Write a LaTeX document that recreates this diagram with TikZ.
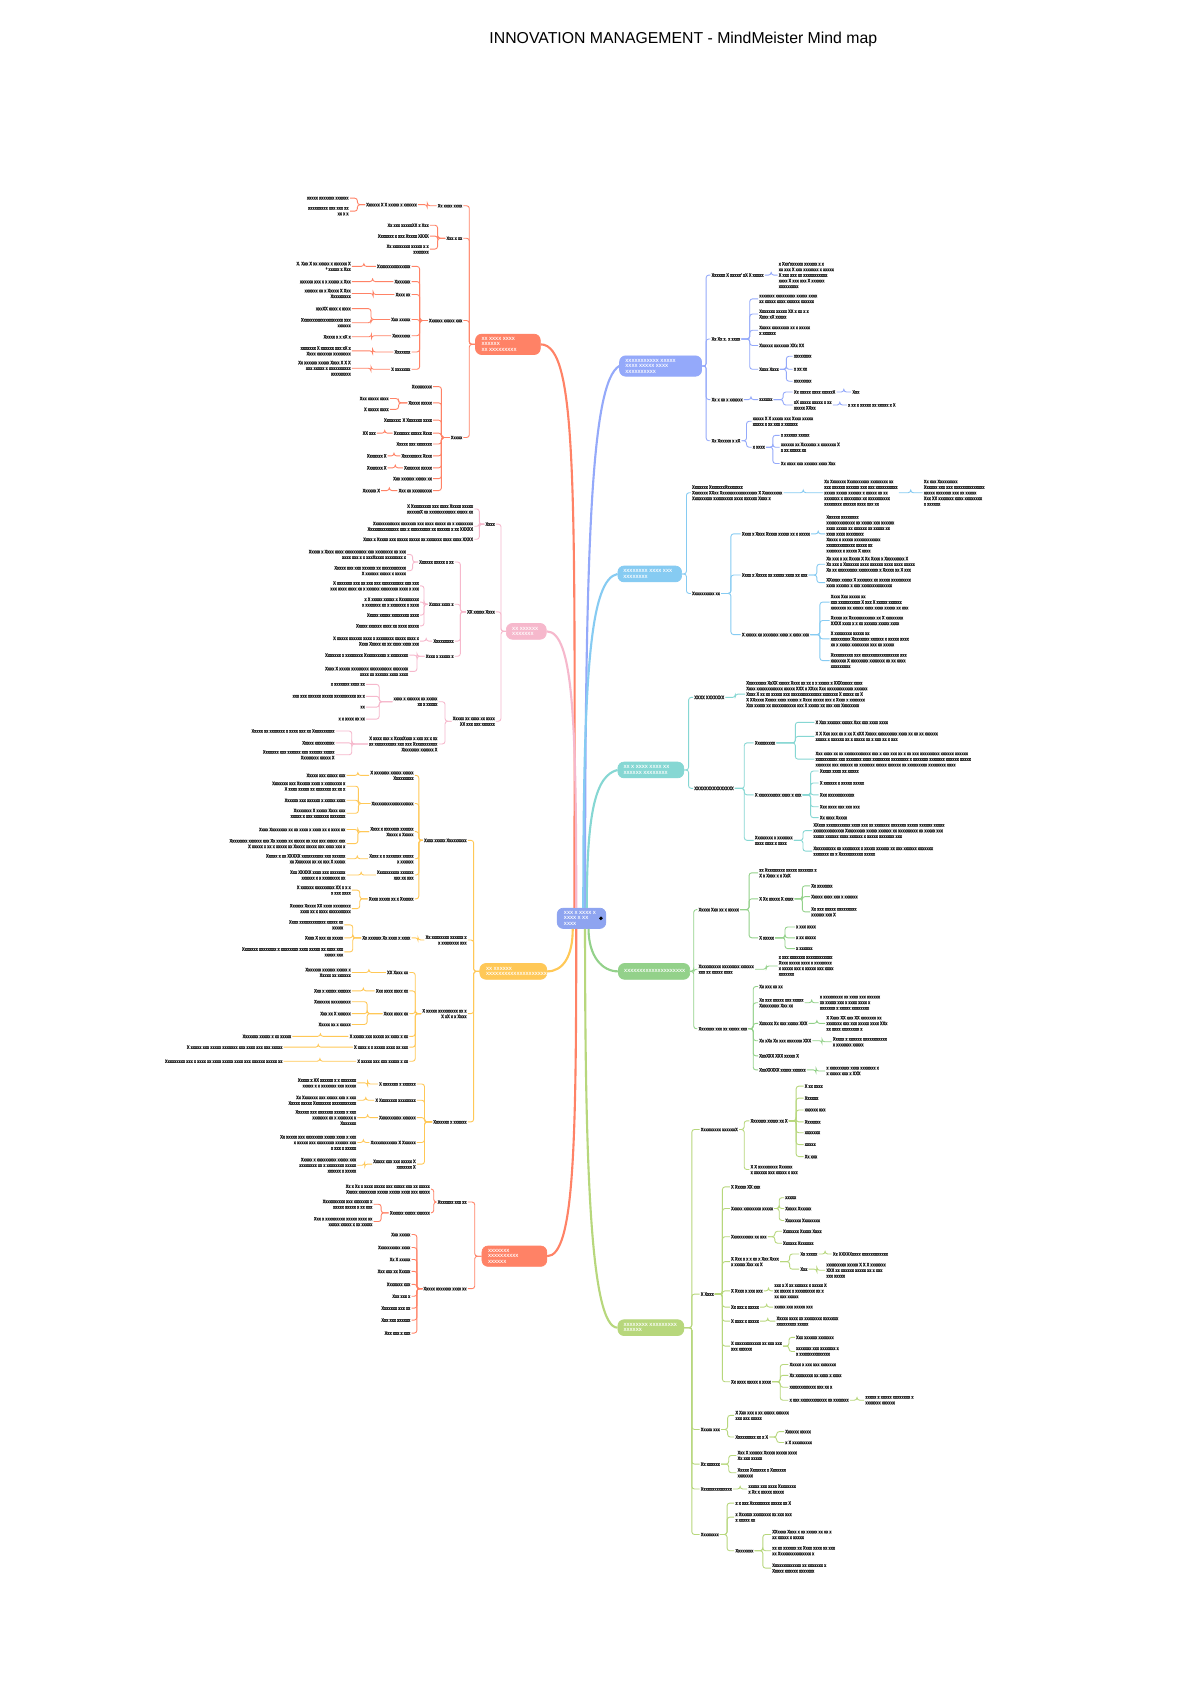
\documentclass[tikz,border=0pt]{standalone}
\usepackage{fontspec}
\setmainfont{Liberation Sans}
\newfontfamily\twigfont[FakeStretch=0.8,FakeBold=1.2]{Liberation Sans Bold}
\usetikzlibrary{calc}
\definecolor{coral}{HTML}{FF8266}
\definecolor{periw}{HTML}{94A9FA}
\definecolor{rose}{HTML}{F6B8CC}
\definecolor{sky}{HTML}{86CBF2}
\definecolor{aqua}{HTML}{86D7D3}
\definecolor{amber}{HTML}{FFC857}
\definecolor{mint}{HTML}{93D18A}
\definecolor{lime}{HTML}{B7D77C}
\definecolor{hubblue}{HTML}{8EA4F0}
\definecolor{ink}{HTML}{262626}
\colorlet{brc}{coral}
\tikzset{
  twig/.style={font=\twigfont\fontsize{2.8}{3.2}\selectfont,text=ink,inner sep=0.5pt},
  link/.style={draw=brc,line width=0.5pt,rounded corners=1.5pt},
  trunk/.style={line width=1.2pt},
  topic/.style={fill=#1,draw=#1,text=white,rounded corners=3.5pt,
    font=\fontsize{2.6}{3.1}\selectfont\bfseries,inner xsep=3pt,inner ysep=1.8pt,
    minimum height=9pt,align=left},
}
\newcommand\kidsL[3]{%
  \foreach \yy/\lab [count=\i] in {#3}{%
    \node[twig,anchor=east,align=right] (#1-\i) at (#2,\yy) {\lab};
    \draw[link] let \p1=(#1.west), \p2=(#1-\i.east) in
      (\p1) -- ({(\x1+\x2)/2},\y1) |- (\p2);
  }%
}
\newcommand\kidsR[3]{%
  \foreach \yy/\lab [count=\i] in {#3}{%
    \node[twig,anchor=west,align=left] (#1-\i) at (#2,\yy) {\lab};
    \draw[link] let \p1=(#1.east), \p2=(#1-\i.west) in
      (\p1) -- ({(\x1+\x2)/2},\y1) |- (\p2);
  }%
}

\begin{document}
\begin{tikzpicture}[x=0.02166cm,y=-0.02166cm]
\fill[white] (0,0) rectangle (1108,1568);
\useasboundingbox (0,0) rectangle (1108,1568);

\node[font=\fontsize{9}{11}\selectfont] (title) at (631,36) {INNOVATION MANAGEMENT - MindMeister Mind map};

\node[topic=hubblue,minimum width=27.7pt,text width=20pt,minimum height=9.8pt] (ctr) at (537,848) {XXX X XXXX X\\XXXX X XX XXXX};
\fill[black] ([xshift=-3pt]ctr.east) circle (1.1pt);

\node[topic=coral,minimum width=36.9pt,text width=30pt] (br1) at (469,318) {XX XXXX XXXX XXXXXX\\XX XXXXXXXXX};
\node[topic=periw,minimum width=46.7pt,text width=40pt] (br2) at (610,338) {XXXXXXXXXXX XXXXX\\XXXX XXXXX XXXX XXXXXXXXXX};
\node[topic=rose,minimum width=22.7pt,text width=16pt] (br3) at (486,583) {XX XXXXXX\\XXXXXXX};
\node[topic=sky,minimum width=36.3pt,text width=30pt] (br4) at (600,530) {XXXXXXXX XXXX XXX\\XXXXXXXX};
\node[topic=aqua,minimum width=37.5pt,text width=31pt] (br5) at (601,711) {XX X XXXX XXXX XX\\XXXXXX XXXXXXXX};
\node[topic=amber,minimum width=38.1pt,text width=31pt] (br6) at (474,897) {XX XXXXXX\\XXXXXXXXXXXXXXXXXXXXX};
\node[topic=mint,minimum width=40.6pt,text width=34pt] (br7) at (604,897) {XXXXXXXXXXXXXXXXXXXX};
\node[topic=coral,minimum width=36.9pt,text width=30pt] (br8) at (475,1160) {XXXXXXX XXXXXXXXXX\\XXXXXX};
\node[topic=lime,minimum width=37.5pt,text width=31pt] (br9) at (601,1226) {XXXXXXXX XXXXXXXXX\\XXXXXX};

\draw[trunk,coral] ([xshift=-4pt]ctr.north) .. controls +(0,-380) and +(35,0) .. (br1.east);
\draw[trunk,periw] ([xshift=2pt]ctr.north) .. controls +(0,-350) and +(-25,15) .. (br2.west);
\draw[trunk,rose] ([xshift=-3pt]ctr.north) .. controls +(0,-170) and +(25,0) .. (br3.east);
\draw[trunk,sky] ([xshift=1pt]ctr.north) .. controls +(0,-220) and +(-25,5) .. (br4.west);
\draw[trunk,aqua] ([xshift=3pt]ctr.north) .. controls +(0,-90) and +(-20,5) .. (br5.west);
\draw[trunk,amber] ([xshift=-5pt]ctr.south) .. controls +(0,25) and +(15,0) .. (br6.east);
\draw[trunk,mint] ([xshift=4pt]ctr.south) .. controls +(0,25) and +(-15,0) .. (br7.west);
\draw[trunk,coral] ([xshift=-3pt]ctr.south) .. controls +(0,200) and +(25,0) .. (br8.east);
\draw[trunk,lime] ([xshift=2pt]ctr.south) .. controls +(0,220) and +(-25,0) .. (br9.west);

% upper left branch
\colorlet{brc}{coral}
\kidsL{br1}{428}{190/{Xx xxxx xxxx}, 220/{Xxx x xx}, 296/{Xxxxxx xxxxx xxx}, 404/{Xxxxx}}
\kidsL{br1-1}{386}{189/{Xxxxxx X X xxxxx x xxxxxx}}
\kidsL{br1-1-1}{323}{183/{xxxxx xxxxxxx xxxxxx}, 195/{xxxxxxxxx xxx xxx xx\\xx x x}}
\kidsL{br1-2}{397}{208/{Xx xxx xxxxxXX x Xxx}, 218/{Xxxxxxx x xxx Xxxxx XXXX}, 230/{Xx xxxxxxxx xxxxx x x\\xxxxxxx}}
\kidsL{br1-3}{380}{246/{Xxxxxxxxxxxxxxx}, 260/{Xxxxxxx}, 272/{Xxxx xx}, 295/{Xxx xxxxx}, 310/{Xxxxxxxx}, 325/{Xxxxxxx}, 341/{X xxxxxxx}}
\kidsL{br1-3-1}{325}{246/{X. Xxx X xx xxxxx x xxxxxx X\\* xxxxx x Xxx}}
\kidsL{br1-3-2}{325}{260/{xxxxxx xxx x x xxxxx x Xxx}}
\kidsL{br1-3-3}{325}{271/{xxxxxx xx x Xxxxx X Xxx\\Xxxxxxxxx}}
\kidsL{br1-3-4}{325}{285/{xxxXX xxxx x xxxx}, 298/{Xxxxxxxxxxxxxxxxxxx xxx\\xxxxxx}}
\kidsL{br1-3-5}{325}{311/{Xxxxx x x xX x}}
\kidsL{br1-3-6}{325}{324/{xxxxxxx X xxxxxx xxx xX x\\Xxxx xxxxxxx xxxxxxxx}}
\kidsL{br1-3-7}{325}{340/{Xx xxxxxx xxxxx Xxxx X X X\\xxx xxxxx x xxxxxxxxxx\\xxxxxxxxx}}
\kidsL{br1-4}{400}{357/{Xxxxxxxxx}, 372/{Xxxxx xxxxx}, 388/{Xxxxxxx: X Xxxxxxx xxxx}, 400/{Xxxxxxx xxxxx Xxxx}, 410/{Xxxxx xxx xxxxxxx}, 421/{Xxxxxxxxx Xxxx}, 432/{Xxxxxxx xxxxx}, 442/{Xxx xxxxxx xxxxx xx}, 453/{Xxx xx xxxxxxxxx}}
\kidsL{br1-4-2}{360}{368/{Xxx xxxxx xxxx}, 378/{X xxxxx xxxx}}
\kidsL{br1-4-4}{348}{400/{XX xxx}}
\kidsL{br1-4-6}{358}{421/{Xxxxxxx X}}
\kidsL{br1-4-7}{358}{432/{Xxxxxxx X}}
\kidsL{br1-4-9}{352}{453/{Xxxxxx X}}

% upper right branch
\colorlet{brc}{periw}
\kidsR{br2}{656}{254/{Xxxxxx X xxxxx' xX X xxxxx}, 313/{Xx Xx x. x xxxx}, 369/{Xx x xx x xxxxxx}, 407/{Xx Xxxxxx x xX}}
\kidsR{br2-1}{718}{254/{x Xxx'xxxxxx xxxxxx x x\\xx xxx X xxx xxxxxxx x xxxxx\\X xxx xxx xx xxxxxxxxxxx\\xxxx X xxx xxx X xxxxxx\\xxxxxxxxx}}
\kidsR{br2-2}{700}{276/{xxxxxxx xxxxxxxxx xxxxx xxxx\\xx xxxxx xxxx xxxxxx xxxxxx}, 290/{Xxxxxxx xxxxx XX x xx x x\\Xxxx xX xxxxx}, 305/{Xxxxx xxxxxxxx xx x xxxxx\\x xxxxxx}, 319/{Xxxxxx xxxxxxx XXx XX}, 341/{Xxxx Xxxx}}
\kidsR{br2-2-5}{732}{329/{xxxxxxxx}, 341/{x xx xx}, 352/{xxxxxxxx}}
\kidsR{br2-3}{700}{369/{xxxxxx}}
\kidsR{br2-3-1}{732}{362/{Xx xxxxx xxxx xxxxxX}, 374/{xX xxxxx xxxxx x xx\\xxxxx XXxx}}
\kidsR{br2-3-1-1}{786}{362/{Xxx}}
\kidsR{br2-3-1-2}{782}{374/{x xx x xxxxx xx xxxxx x X}}
\kidsR{br2-4}{694}{389/{xxxxx X X xxxxx xxx Xxxx xxxxx\\xxxxx x xx xxx x xxxxxx}, 413/{x xxxx}}
\kidsR{br2-4-2}{720}{402/{x xxxxxx xxxxx}, 413/{xxxxxx xx Xxxxxxx x xxxxxxx X\\x xx xxxxx xx}, 428/{Xx xxxx xxx xxxxxx xxxx Xxx}}

% pink branch
\colorlet{brc}{rose}
\kidsL{br3}{458}{484/{Xxxx}, 565/{XX xxxxx Xxxx}, 666/{Xxxxx xx xxxx xx xxxx\\XX xxx xxx xxxxxx}}
\kidsL{br3-1}{438}{470/{X Xxxxxxxxx xxx xxxx Xxxxx xxxxx\\xxxxxxX xx xxxxxxxxxxxx xxxxx xx}, 486/{Xxxxxxxxxxxx xxxxxxx xxx xxxx xxxxx xx x xxxxxxxx\\Xxxxxxxxxxxxxx xxx x xxxxxxxxx xx xxxxxx x xx XXXXX}, 498/{Xxxx x Xxxxx xxx xxxxx xxxxx xx xxxxxxx xxxx xxxx XXXX}}
\kidsL{br3-2}{420}{519/{Xxxxxx xxxxx x xx}, 558/{Xxxxx xxxx x}, 592/{Xxxxxxxxx}, 606/{Xxxx x xxxxx x}}
\kidsL{br3-2-1}{376}{512/{Xxxxx x Xxxx xxxx xxxxxxxxxx xxx xxxxxxxx xx xxx\\xxxx xxx x x xxxXxxxx xxxxxxxx x}, 527/{Xxxxx xxx xxx xxxxxx xx xxxxxxxxxxx\\X xxxxxx xxxxx x xxxxx}}
\kidsL{br3-2-2}{388}{541/{X xxxxxxx xxx xx xxx xxx xxxxxxxxxx xxx xxx\\xxx xxxx xxxx xx x xxxxxx xxxxxxxx xxxx x xxx}, 556/{x X xxxxx xxxxx x Xxxxxxxxx\\x xxxxxxx xx x xxxxxxx x xxxx}, 568/{Xxxxx xxxxx xxxxxxxx xxxx}, 578/{Xxxxx xxxxxx xxxx xx xxxx xxxxx}}
\kidsL{br3-2-3}{388}{592/{X xxxxx xxxxxx xxxx x xxxxxxxx xxxxx xxxx x\\Xxxx Xxxxx xx xx xxxx xxxx xxx}}
\kidsL{br3-2-4}{378}{605/{Xxxxxxx x xxxxxxxx Xxxxxxxxxx x xxxxxxxx}, 620/{Xxxx X xxxxx xxxxxxxx xxxxxxxxxx xxxxxxx\\xxxx xx xxxxxx xxxx xxxx}}
\kidsL{br3-3}{405}{648/{xxxx x xxxxxx xx xxxxx\\xx x xxxxx}, 687/{X xxxx xxx x XxxxXxxx x xxx xx x xx\\xx xxxxxxxxxx xxx xxx Xxxxxxxxxxx\\Xxxxxxxx xxxxxx X}}
\kidsL{br3-3-1}{338}{632/{x xxxxxxx xxxx xx}, 643/{xxx xxx xxxxxx xxxxx xxxxxxxxxx xx x}, 653/{xx}, 664/{x x xxxx xx xx}}
\kidsL{br3-3-2}{310}{675/{Xxxxx xx xxxxxxx x xxxx xxx xx Xxxxxxxxxx}, 686/{Xxxxx xxxxxxxxx}, 697/{Xxxxxxx xxx xxxxxx xxx xxxxxx xxxxx\\Xxxxxxxx xxxxx X}}

% sky branch
\colorlet{brc}{sky}
\kidsR{br4}{638}{455/{Xxxxxxx XxxxxxxXxxxxxxx\\Xxxxxxx XXxx Xxxxxxxxxxxxxxxxx X Xxxxxxxxx\\Xxxxxxxxx xxxxxxxxx xxxx xxxxxx Xxxx x}, 548/{Xxxxxxxxxx xx}}
\kidsR{br4-1}{760}{455/{Xx Xxxxxxx Xxxxxxxxxx xxxxxxxx xx\\xxx xxxxxx xxxxxx xxx xxx xxxxxxxxxx\\xxxxx xxxxx xxxxxx x xxxxx xx xx\\xxxxxxx x xxxxxxxx xx xxxxxxxxxx\\xxxxxxxx xxxxxx xxxx xxx xx}}
\kidsR{br4-1-1}{852}{455/{Xx xxx Xxxxxxxxx\\Xxxxxx xxx xxx xxxxxxxxxxxxxx\\xxxxx xxxxxxx xxx xx xxxxx\\Xxx XX xxxxxxx xxxx xxxxxxxx\\x xxxxxx}}
\kidsR{br4-2}{684}{493/{Xxxx x Xxxx Xxxxx xxxxx xx x xxxxx}, 531/{Xxxx x Xxxxx xx xxxxx xxxx xx xxx}, 586/{X xxxxx xx xxxxxxx xxxx x xxxx xxx}}
\kidsR{br4-2-1}{762}{493/{Xxxxxx xxxxxxxx\\xxxxxxxxxxxxx xx xxxxx xxx xxxxxx\\xxxx xxxxx xx xxxxxx xx xxxxx xx\\xxxx xxxx xxxxxxxx\\Xxxxx x xxxxx xxxxxxxxxxxx\\xxxxxxxxxxxxx xxxxx xx\\xxxxxxx x xxxxx X xxxx}}
\kidsR{br4-2-2}{762}{521/{Xx xxx x xx Xxxxx X Xx Xxxx x Xxxxxxxxx X\\Xx xxx x Xxxxxxx xxxx xxxxxx xxxx xxxx xxxxx\\Xx xx xxxxxxxxx xxxxxxxxx x Xxxxx xx X xxx}, 538/{XXxxxx xxxxx X xxxxxxx xx xxxxx xxxxxxxxx\\xxxx xxxxxx x xxx xxxxxxxxxxxxxx}}
\kidsR{br4-2-3}{766}{556/{Xxxx Xxx xxxxx xx\\xxx xxxxxxxxxx X xxx X xxxxx xxxxxx\\xxxxxxx xx xxxxx xxxx xxxx xxxxx xx xxx}, 573/{Xxxxx xx Xxxxxxxxxxxx xx X xxxxxxxx\\XXXX xxxx x x xx xxxxxx xxxxx xxxx}, 590/{X xxxxxxxx xxxxx xx\\xxxxxxxxx Xxxxxxxx xxxxxx x xxxxx xxxx\\xx x xxxxx xxxxxxxx xxx xx xxxxx}, 610/{Xxxxxxxxxx xxx xxxxxxxxxxxxxxxxx xxx\\xxxxxxx X xxxxxxxx xxxxxxx xx xx xxxx\\xxxxxxxxx}}

% teal branch
\colorlet{brc}{aqua}
\kidsR{br5}{640}{644/{XXXX XXXXXXX}, 728/{XXXXXXXXXXXXXXX}}
\kidsR{br5-1}{688}{641/{Xxxxxxxxx XxXX xxxxx Xxxx xx xx x x xxxxx x XXXxxxxx xxxx\\Xxxx xxxxxxxxxxxx xxxxx XXX x XXxx Xxx xxxxxxxxxxxx xxxxxx\\Xxxx X xx xx xxxxx xxx xxxxxxxxxxxxxx xxxxxxx X xxxxx xx X\\X XXxxxx Xxxxx xxxx xxxxx x Xxxx xxxxx xxx x Xxxx x xxxxxxx\\Xxx xxxxx xx xxxxxxxxxxx xxx X xxxxx xx xxx xxx Xxxxxxxx}}
\kidsR{br5-2}{696}{686/{Xxxxxxxxx}, 734/{X xxxxxxxxxx xxxx x xxx}, 776/{Xxxxxxxx x xxxxxxx\\xxxx xxxx x xxxx}}
\kidsR{br5-2-1}{752}{667/{X Xxx xxxxxx xxxxx Xxx xxx xxxx xxxx}, 680/{X X Xxx xxx xx x xx X xXX Xxxxx xxxxxxxxx xxxx xx xx xx xxxxxx\\xxxxx x xxxxxx xx x xxxxx xx x xxx xx x xxx}, 701/{Xxx xxxx xx xx xxxxxxxxxxxx xxx x xxx xxx xx x xx xxx xxxxxxxxx xxxxxx xxxxxx\\xxxxxxxxxx xxx xxxxxxx xxxx xxxxxxxx xxxxxxxx x xxxxxxx xxxxxxx xxxxxx xxxxx\\xxxxxxx xxx xxxxxx xx xxxxxxx xxxxx xxxxxx xx xxxxxxxxx xxxxxxxx xxxx}}
\kidsR{br5-2-2}{756}{712/{Xxxxx xxxx xx xxxxx}, 723/{X xxxxxx x xxxxx xxxxx}, 734/{Xxx xxxxxxxxxxxx}, 745/{Xxx xxxx xxx xxx xxx}, 755/{Xx xxxx Xxxxx}}
\kidsR{br5-2-3}{750}{767/{XXxxx xxxxxxxxxxx xxxx xxx xx xxxxxxx xxxxxxx xxxxx xxxxxx xxxxx\\xxxxxxxxxxxxxx Xxxxxxxxx xxxxx xxxxxx xx xxxxxxxxx xx xxxxx xxx\\xxxxx xxxxxx xxxx xxxxxx x xxxxx xxxxxxx xxx}, 786/{Xxxxxxxxxx xx xxxxxxxx x xxxxx xxxxxx xx xxx xxxxxx xxxxxxx\\xxxxxxx xx x Xxxxxxxxxxx xxxxx}}

% orange branch
\colorlet{brc}{amber}
\kidsL{br6}{432}{776/{Xxxx xxxxx Xxxxxxxxx}, 868/{Xx xxxxxxxx xxxxxx x\\x xxxxxxxx xxx}, 936/{X xxxxx xxxxxxxxx xx x\\X xX x x Xxxx}, 1036/{Xxxxxxx x xxxxxx}}
\kidsL{br6-1}{383}{716/{X xxxxxxx xxxxx xxxxx\\Xxxxxxxxx}, 742/{Xxxxxxxxxxxxxxxxxxx}, 768/{Xxxx x xxxxxxx xxxxxx\\Xxxxx x Xxxxx}, 793/{Xxxx x x xxxxxxx xxxxx\\x xxxxxx}, 808/{Xxxxxxxxxx xxxxxx\\xxx xx xxx}, 830/{Xxxx xxxxx xx x Xxxxxx}}
\kidsL{br6-1-1}{320}{716/{Xxxxx xxx xxxxx xxx}}
\kidsL{br6-1-2}{320}{726/{Xxxxxxx xxx Xxxxxx xxxx x xxxxxxxx x\\X xxxx xxxxx xx xxxxxxx xx xx x}, 739/{Xxxxxx xxx xxxxxx x xxxxx xxxx}, 751/{Xxxxxxxx X xxxxx Xxxx xxx\\xxxxx x xxx xxxxxxx xxxxxxx}}
\kidsL{br6-1-3}{320}{766/{Xxxx Xxxxxxxx xx xx xxxx x xxxx xx x xxxx xx}, 779/{Xxxxxxxx xxxxxx xxx Xx xxxxx xx xxxxx xx xxx xxx xxxxx xxx\\X xxxxx x xx x xxxxx xx Xxxxx xxxxx xxx xxxx xxx x}}
\kidsL{br6-1-4}{320}{793/{Xxxxx x xx XXXXX xxxxxxxxxx xxx xxxxxx\\xx Xxxxxxx xx xx xxx X xxxxx}}
\kidsL{br6-1-5}{320}{808/{Xxx XXXXX xxxx xxx xxxxxxx\\xxxxxx x x xxxxxxxx xx}}
\kidsL{br6-1-6}{325}{822/{X xxxxxx xxxxxxxxx XX x x x\\x xxx xxxx}, 839/{Xxxxxx Xxxxx XX xxxx xxxxxxxx\\xxxx xx x xxxx xxxxxxxxxx}}
\kidsL{br6-2}{380}{866/{Xx xxxxxx Xx xxxx x xxxx}}
\kidsL{br6-2-1}{318}{854/{Xxxx xxxxxxxxxxxx xxxxx xx\\xxxxx}, 866/{Xxxx X xxx xx xxxxx}, 879/{Xxxxxxx xxxxxxxx x xxxxxxxx xxxx xxxxx xx xxxx xxx\\xxxxx xxx}}
\kidsL{br6-3}{378}{898/{XX Xxxx xx}, 915/{Xxx xxxx xxxx xx}, 936/{Xxxx xxxx xx}, 957/{X xxxxx xxx xxxxx xx xxxx x xx}, 967/{X xxxx x x xxxxx xxxx xx xxx}, 980/{X xxxxx xxx xxx xxxxx x xx}}
\kidsL{br6-3-1}{325}{898/{Xxxxxxx xxxxxx xxxxx x\\Xxxxx xx xxxxxx}}
\kidsL{br6-3-2}{325}{915/{Xxx x xxxxx xxxxxx}}
\kidsL{br6-3-3}{325}{925/{Xxxxxxx xxxxxxxxx}, 936/{Xxx xx X xxxxxx}, 946/{Xxxxx xx x xxxxx}}
\kidsL{br6-3-4}{270}{957/{Xxxxxxx xxxxx x xx xxxxx}}
\kidsL{br6-3-5}{262}{967/{X xxxxx xxx xxxxx xxxxxxx xxx xxxx xxx xxx xxxxx}}
\kidsL{br6-3-6}{262}{980/{Xxxxxxxxx xxx x xxxx xx xxxx xxxxx xxxx xxx xxxxxx xxxxx xx}}
\kidsL{br6-4}{385}{1001/{X xxxxxxx x xxxxxx}, 1016/{X Xxxxxxxx xxxxxxxx}, 1032/{Xxxxxxxxxx xxxxxx}, 1055/{Xxxxxxxxxxxx X Xxxxxx}, 1075/{Xxxxx xxx xxx xxxxx X\\xxxxxxx X}}
\kidsL{br6-4-1}{330}{1000/{Xxxxx x XX xxxxxx x x xxxxxxx\\xxxxx x x xxxxxxx xxx xxxxx}}
\kidsL{br6-4-2}{330}{1016/{Xx Xxxxxxx xxx xxxxx xxx x xxx\\Xxxxx xxxxx Xxxxxxxx xxxxxxxxxxx}}
\kidsL{br6-4-3}{330}{1032/{Xxxxxx xxx xxxxxxx xxxxx x xxx\\xxxxxxx xx x xxxxxxx x\\Xxxxxxx}}
\kidsL{br6-4-4}{330}{1055/{Xx xxxxx xxx xxxxxxxx xxxxx xxxx x xxx\\x xxxxx xxx xxxxxxxx xxxxxx xxx\\x xxx x xxxxx}}
\kidsL{br6-4-5}{330}{1076/{Xxxxx x xxxxxxxxx xxxxx xxx\\xxxxxxxx xx x xxxxxxxx xxxxx\\xxxxxx x xxxxx}}

% green branch
\colorlet{brc}{mint}
\kidsR{br7}{644}{840/{Xxxxx Xxx xx x xxxxx}, 895/{Xxxxxxxxxx xxxxxxxx xxxxxx\\xxx xx xxxxx xxxx}, 950/{Xxxxxxx xxx xx xxxxx xxx}}
\kidsR{br7-1}{700}{806/{xx Xxxxxxxxx xxxxx xxxxxxx x\\X x Xxxx x x XxX}, 830/{X Xx xxxxx X xxxx}, 866/{X xxxxx}}
\kidsR{br7-1-2}{748}{818/{Xx xxxxxxx}, 828/{Xxxxx xxxx xxx x xxxxxx}, 842/{Xx xxx xxxxx xxxxxxxxx\\xxxxxx xxx X}}
\kidsR{br7-1-3}{734}{856/{x xxx xxxx}, 866/{x xx xxxxx}, 876/{x xxxxxx}}
\kidsR{br7-2}{718}{892/{x xxx xxxxxxx xxxxxxxxxxxx\\Xxxx xxxxx xxxx x xxxxxxxx\\x xxxxx xxx x xxxxx xxx xxxx\\xxxxxxx}}
\kidsR{br7-3}{700}{911/{Xx xxx xx xx}, 926/{Xx xxx xxxxx xxx xxxxx\\Xxxxxxxxx Xxx xx}, 945/{Xxxxxx Xx xxx xxxxx XXX}, 961/{Xx xXx Xx xxx xxxxxxx XXX}, 975/{XxxXXX XXX xxxxx X}, 988/{XxxXXXXX xxxxx xxxxxx}}
\kidsR{br7-3-2}{756}{926/{x xxxxxxxxx xx xxxx xxx xxxxxx\\xx xxxxx xxx x xxxx xxxx x\\xxxxxxx x xxxxx xxxxxxxx}}
\kidsR{br7-3-3}{762}{945/{X Xxxx XX xxx XX xxxxxxx xx\\xxxxxxx xxx xxx xxxxx xxxx XXx\\xx xxxx xxxxxxxx x}}
\kidsR{br7-3-4}{768}{962/{Xxxxx x xxxxxx xxxxxxxxxxx\\x xxxxxxx xxxxx}}
\kidsR{br7-3-6}{762}{989/{x xxxxxxxxx xxxx xxxxxxx x\\x xxxxx xxx x XXX}}

% lower left branch
\colorlet{brc}{coral}
\kidsL{br8}{432}{1110/{Xxxxxxx xxx xx}, 1190/{Xxxxx xxxxxxx xxxx xx}}
\kidsL{br8-1}{398}{1098/{Xx x Xx x xxxx xxxxx xxx xxxxx xxx xx xxxxx\\Xxxxx xxxxxxxx xxxxx xxxxx xxxx xxx xxxxx}, 1120/{Xxxxxx xxxxx xxxxxx}}
\kidsL{br8-1-2}{345}{1112/{Xxxxxxxxxx xxx xxxxxxx x\\xxxxx xxxxx x xx xxx}, 1128/{Xxx x xxxxxxxxx xxxxx xxxx xx\\xxxxx xxxxx x xx xxxxx}}
\kidsL{br8-2}{380}{1140/{Xxx xxxxx}, 1152/{Xxxxxxxxxx xxxx}, 1163/{Xx X xxxxx}, 1174/{Xxx xxx xx Xxxxx}, 1186/{Xxxxxxx xxx}, 1197/{Xxx xxx x}, 1208/{Xxxxxxx xxx xx}, 1219/{Xxx xxx xxxxxx}, 1231/{Xxx xxx x xxx}}

% lower right branch
\colorlet{brc}{lime}
\kidsR{br9}{646}{1043/{Xxxxxxxxx xxxxxxX}, 1195/{X Xxxx}, 1320/{Xxxxx xxx}, 1352/{Xx xxxxxx}, 1375/{Xxxxxxxxxxxxxx}, 1417/{Xxxxxxxx}}
\kidsR{br9-1}{692}{1035/{Xxxxxxx xxxxx xx X}, 1080/{X X xxxxxxxxx Xxxxxx\\x xxxxxx xxx xxxxx x xxx}}
\kidsR{br9-1-1}{742}{1003/{X xx xxxx}, 1014/{Xxxxxx}, 1025/{xxxxxx xxx}, 1036/{Xxxxxxx}, 1046/{xxxxxxx}, 1057/{xxxxx}, 1068/{Xx xxx}}
\kidsR{br9-2}{674}{1096/{X Xxxxx XX xxx}, 1116/{Xxxxx xxxxxxxx xxxxx}, 1142/{Xxxxxxxxxx xx xxx}, 1165/{X Xxx x x x xx x Xxx Xxxx\\x xxxxx Xxx xx X}, 1192/{X Xxxx x xxx xxx}, 1207/{Xx xxx x xxxxx}, 1220/{X xxxx x xxxxx}, 1243/{X xxxxxxxxxxxx xx xxx xxx\\xxx xxxxxx}, 1276/{Xx xxxx xxxxx x xxxx}}
\kidsR{br9-2-2}{724}{1106/{xxxxx}, 1116/{Xxxxx Xxxxxx}, 1127/{Xxxxxxx Xxxxxxxx}}
\kidsR{br9-2-3}{722}{1137/{Xxxxxxx Xxxxx Xxxx}, 1148/{Xxxxxx Xxxxxxx}}
\kidsR{br9-2-4}{738}{1158/{Xx xxxxx}, 1172/{Xxx}}
\kidsR{br9-2-4-1}{768}{1158/{Xx XXXXXxxxx xxxxxxxxxxxx}}
\kidsR{br9-2-4-2}{762}{1173/{xxxxxxxxx xxxxx X X X xxxxxxx\\XXX xx xxxxxx xxxxx xx x xxx\\xxx xxxxx}}
\kidsR{br9-2-5}{714}{1192/{xxx x X xx xxxxxx x xxxxx X\\xx xxxxx x xxxxxxxxx xx x\\xx xxx xxxxx}}
\kidsR{br9-2-6}{714}{1207/{xxxxx xxx xxxxx xxx}}
\kidsR{br9-2-7}{716}{1220/{Xxxxx xxxx xx xxxxxxxx xxxxxxx\\xxxxxxxxx xxxxx}}
\kidsR{br9-2-8}{734}{1235/{Xxx xxxxxx xxxxxxx}, 1248/{xxxxxxx xxx xxxxxxx x\\x xxxxxxxxxxxxxx}}
\kidsR{br9-2-9}{728}{1260/{Xxxxx x xxx xxx xxxxxxx}, 1270/{Xx xxxxxxxx xx xxxx x xxxx}, 1281/{xxxxxxxxxxxx xxx xx x}, 1293/{x xxx xxxxxxxxxxxx xx xxxxxxx}}
\kidsR{br9-2-9-4}{798}{1293/{xxxxx x xxxxx xxxxxxxx x\\xxxxxxx xxxxxx}}
\kidsR{br9-3}{678}{1307/{X Xxx xxx x xx xxxxx xxxxxx\\xxx xxx xxxxx}, 1327/{Xxxxxxxxx xx x X}}
\kidsR{br9-3-2}{724}{1322/{Xxxxxx xxxxx}, 1332/{x X xxxxxxxxx}}
\kidsR{br9-4}{680}{1344/{Xxx X xxxxxx Xxxxx xxxxx xxxx\\Xx xxx xxxxx}, 1360/{Xxxxx Xxxxxxx x Xxxxxxx\\xxxxxxx}}
\kidsR{br9-5}{690}{1375/{xxxxx xxx xxxx Xxxxxxxx\\x Xx x xxxxx xxxxx}}
\kidsR{br9-6}{678}{1388/{x x xxx Xxxxxxxxx xxxxx xx X}, 1401/{x Xxxxxx xxxxxxxx xx xxx xxx\\x xxxxx xx}, 1432/{Xxxxxxxx}}
\kidsR{br9-6-3}{712}{1417/{XXxxxx Xxxx x xx xxxxx xx xx x\\xx xxxxx x xxxxx}, 1432/{xx xx xxxxxx xx Xxxx xxxx xx xxx\\xx Xxxxxxxxxxxxxxx x}, 1448/{Xxxxxxxxxxxxx xx xxxxxxx x\\Xxxxx xxxxxx xxxxxxx}}
\end{tikzpicture}
\end{document}
